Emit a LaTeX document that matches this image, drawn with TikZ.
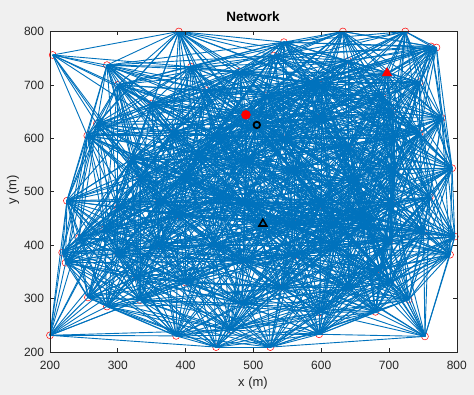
\documentclass[tikz,border=0pt]{standalone}
\usepackage{fontspec}
\setmainfont{Liberation Sans}
\usetikzlibrary{shapes.geometric}
\definecolor{mblue}{RGB}{0,114,189}
\definecolor{figbg}{RGB}{240,240,240}
\definecolor{axc}{RGB}{38,38,38}
\begin{document}
\begin{tikzpicture}[x=1pt,y=1pt,
  sensor/.style={circle,draw=red,line width=0.5pt,inner sep=0pt,minimum size=7pt},
  link/.style={draw=mblue,line width=0.9pt},
  srcmark/.style={circle,fill=red,draw=red,inner sep=0pt,minimum size=9pt},
  dstmark/.style={circle,draw=black,line width=1.8pt,inner sep=0pt,minimum size=6.5pt},
  srctri/.style={regular polygon,regular polygon sides=3,fill=red,draw=red,inner sep=0pt,minimum size=11pt},
  dsttri/.style={regular polygon,regular polygon sides=3,draw=black,line width=1.6pt,inner sep=0pt,minimum size=9pt},
  ticklab/.style={text=axc,font=\fontsize{12}{14}\selectfont,inner sep=0pt},
  axlab/.style={text=axc,font=\fontsize{13}{15}\selectfont,inner sep=0pt}]
\useasboundingbox (0,0) rectangle (474,395);
\fill[figbg] (0,0) rectangle (474,395);
\fill[white] (50,43) rectangle (457,363.5);
\def\nodelist{204/756, 390/800, 284/737, 408/734, 269/627, 255/605, 225/483, 632/800, 724/800, 762/772, 770/770, 545/780, 793/544, 778/638, 218/386, 223/367, 243/414, 256/302, 284/285, 200/231, 386/230, 445/209, 328/339, 751/425, 797/416, 790/382, 729/298, 753/229, 597/233, 525/209, 687/354, 598/274,
489/644, 505/625, 697/722, 514/440,
300/700, 350/665, 430/690, 480/725, 530/755, 585/705, 640/745, 690/680, 745/705, 600/640, 545/600, 445/605, 380/610, 320/560, 333/525, 400/530, 560/540, 640/585, 709/541, 745/610, 300/470, 389/456, 450/490, 600/475, 660/455, 701/409, 620/400, 560/380, 440/400, 360/400, 300/385, 333/297, 400/330, 540/320, 640/320, 680/275, 466/241, 560/440, 760/490, 280/430, 705/650, 708/600, 704/480, 702/330, 490/560, 487/480, 485/370, 483/290, 620/440, 667/440, 420/570, 600/700, 520/680, 360/480, 650/520}
\begin{scope}[x=0.678pt,y=0.534pt,shift={(-85.6pt,-63.7pt)}]
  \foreach [count=\i] \xa/\ya in \nodelist {
    \node[sensor] (n\i) at (\xa,\ya) {};
  }
  \foreach [count=\i] \xa/\ya in \nodelist {
    \foreach [count=\j] \xb/\yb in \nodelist {
      \ifnum\j>\i
        \pgfmathsetmacro\dd{veclen(\xb-\xa,\yb-\ya)}
        \ifdim\dd pt<272pt
          \draw[link] (n\i.center) -- (n\j.center);
        \fi
      \fi
    }
  }
  \node[srcmark] (src) at (489,644) {};
  \node[dstmark] (dst) at (505,625) {};
  \node[srctri] (srct) at (697,722) {};
  \node[dsttri] (dstt) at (514,440) {};
  \draw[axc,line width=0.6pt] (200,200) rectangle (800,800);
  \foreach \v in {200,300,...,800} {
    \draw[axc,line width=0.6pt] (\v,200) -- ++(0pt,4pt);
    \draw[axc,line width=0.6pt] (\v,800) -- ++(0pt,-4pt);
    \draw[axc,line width=0.6pt] (200,\v) -- ++(4pt,0pt);
    \draw[axc,line width=0.6pt] (800,\v) -- ++(-4pt,0pt);
    \node[ticklab,anchor=center] (tx\v) at ([yshift=-13pt]\v,200) {\v};
    \node[ticklab,anchor=east] (ty\v) at ([xshift=-5.7pt]200,\v) {\v};
  }
\end{scope}
\node[axlab,font=\fontsize{13.5}{15}\selectfont\bfseries,text=black] (title) at (253,378) {Network};
\node[axlab] (xl) at (253,12) {x (m)};
\node[axlab,rotate=90] (yl) at (13,205) {y (m)};
\end{tikzpicture}
\end{document}
